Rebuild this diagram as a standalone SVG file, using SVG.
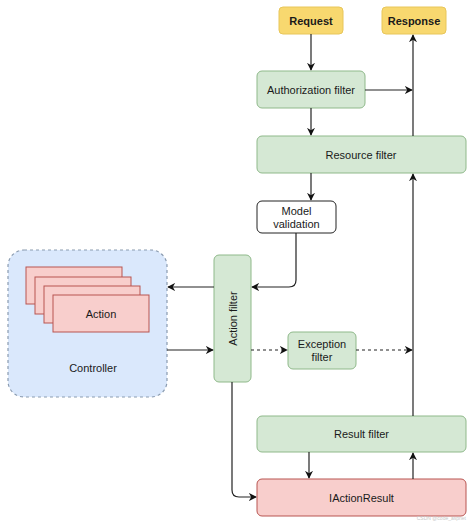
<svg xmlns="http://www.w3.org/2000/svg" width="474" height="525" viewBox="0 0 474 525">
<defs>
<style>
.t{font-family:"Liberation Sans",Arial,sans-serif;font-size:11px;fill:#1a1a1a;text-anchor:middle;dominant-baseline:central}
.b{font-weight:bold}
.yel{fill:#f8d86f;stroke:#e8c65a;stroke-width:1}
.grn{fill:#d5e8d4;stroke:#8fb98a;stroke-width:1}
.red{fill:#f8cecc;stroke:#b85450;stroke-width:1}
.wht{fill:#ffffff;stroke:#222;stroke-width:1}
.blu{fill:#dae8fc;stroke:#8a9bb0;stroke-width:1.2;stroke-dasharray:3 3}
.c{fill:none;stroke:#222;stroke-width:1.2}
.d{stroke-dasharray:3 3}
</style>
<marker id="a" viewBox="0 0 10 10" refX="9" refY="5" markerWidth="8" markerHeight="8" markerUnits="userSpaceOnUse" orient="auto">
<path d="M0,0 L10,5 L0,10 L3,5 Z" fill="#111"/>
</marker>
</defs>
<rect width="474" height="525" fill="#fff"/>
<g id="controller">
<rect class="blu" x="8" y="250" width="159" height="147" rx="16"/>
<text class="t" x="93" y="368" font-size="12">Controller</text>
</g>
<g id="action">
<rect class="red" x="26" y="267" width="96" height="37"/>
<rect class="red" x="35" y="277" width="96" height="37"/>
<rect class="red" x="44" y="286" width="96" height="37"/>
<rect class="red" x="53" y="295" width="96" height="37"/>
<text class="t" x="101" y="314">Action</text>
</g>
<g id="request">
<rect class="yel" x="279" y="7" width="64" height="27" rx="4"/>
<text class="t b" x="311" y="20.5">Request</text>
</g>
<g id="response">
<rect class="yel" x="382" y="7" width="64" height="27" rx="4"/>
<text class="t b" x="414" y="20.5">Response</text>
</g>
<g id="authorization">
<rect class="grn" x="257" y="71" width="108" height="37" rx="5"/>
<text class="t" x="311" y="89.5">Authorization filter</text>
</g>
<g id="resource">
<rect class="grn" x="257" y="136" width="209" height="37" rx="5"/>
<text class="t" x="361" y="154.5">Resource filter</text>
</g>
<g id="model">
<rect class="wht" x="257" y="201" width="79" height="32" rx="5"/>
<text class="t" x="296.5" y="210.5">Model</text>
<text class="t" x="296.5" y="224">validation</text>
</g>
<g id="actionfilter">
<rect class="grn" x="214" y="255" width="37" height="127" rx="5"/>
<text class="t" transform="translate(232.5,318.5) rotate(-90)">Action filter</text>
</g>
<g id="exception">
<rect class="grn" x="288" y="332" width="68" height="37" rx="5"/>
<text class="t" x="322" y="344">Exception</text>
<text class="t" x="322" y="357">filter</text>
</g>
<g id="result">
<rect class="grn" x="257" y="416" width="209" height="36" rx="5"/>
<text class="t" x="361.5" y="434">Result filter</text>
</g>
<g id="iactionresult">
<rect class="red" x="257" y="479" width="209" height="37" rx="5"/>
<text class="t" x="361.5" y="497.5">IActionResult</text>
</g>
<g id="connectors">
<path class="c" d="M311,34 V70" marker-end="url(#a)"/>
<path class="c" d="M365,90 H412" marker-end="url(#a)"/>
<path class="c" d="M311,108 V135" marker-end="url(#a)"/>
<path class="c" d="M413,136 V35" marker-end="url(#a)"/>
<path class="c" d="M311,173 V200" marker-end="url(#a)"/>
<path class="c" d="M296,233 V280 Q296,287 289,287 H252" marker-end="url(#a)"/>
<path class="c" d="M214,287 H168" marker-end="url(#a)"/>
<path class="c" d="M167,350 H213" marker-end="url(#a)"/>
<path class="c d" d="M251,350 H287" marker-end="url(#a)"/>
<path class="c d" d="M356,350 H412" marker-end="url(#a)"/>
<path class="c" d="M413,416 V174" marker-end="url(#a)"/>
<path class="c" d="M232,382 V490 Q232,497 239,497 H256" marker-end="url(#a)"/>
<path class="c" d="M309,452 V478" marker-end="url(#a)"/>
<path class="c" d="M413,479 V453" marker-end="url(#a)"/>
</g>
<text x="466" y="520" font-family="Liberation Sans,Arial,sans-serif" font-size="5" fill="#c8c8c8" text-anchor="end">CSDN @code_aspnet</text>
</svg>
